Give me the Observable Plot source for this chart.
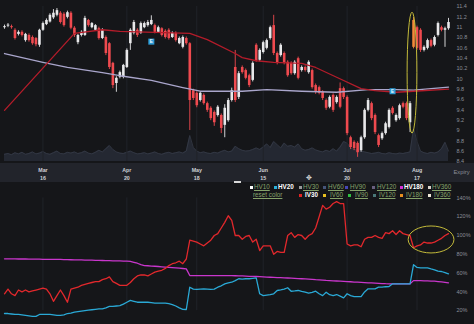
<!DOCTYPE html>
<html><head><meta charset="utf-8">
<script src="https://cdn.jsdelivr.net/npm/d3@7"></script>
<script src="https://cdn.jsdelivr.net/npm/@observablehq/plot@0.6"></script>
<style>
html,body{margin:0;padding:0;background:#151619;}
#wrap{position:relative;width:474px;height:324px;background:#151619;overflow:hidden;font-family:"Liberation Sans",Arial,sans-serif;}
#band{position:absolute;left:0;top:163px;width:474px;height:19px;background:#22242b;}
.layer{position:absolute;left:0;top:0;width:474px;}
.lg{position:absolute;font-size:6.3px;line-height:8px;white-space:nowrap;}
.sq{position:absolute;width:3px;height:3px;}
.lnk{color:#86a36a;text-decoration:underline;}
.act{color:#ffffff;font-weight:bold;}
</style>
</head><body>
<div id="wrap">
  <div id="band"></div>
  <div id="vol" class="layer"></div>
  <div id="top" class="layer"></div>
  <div id="bot" class="layer" style="top:182px"></div>
  <div id="legend"></div>
</div>
<script>
// ---- price candles (trading-day index 0..127, Mar 1 – Aug 30) ----
const open = [10.99,11.02,11.01,10.94,10.86,10.90,10.74,10.84,10.80,10.78,
 10.65,10.94,11.05,11.10,11.18,11.23,11.27,11.25,11.19,11.27,
 10.98,10.70,10.84,10.84,11.13,10.99,10.94,10.97,10.78,10.80,
 10.68,10.30,9.91,10.03,10.03,10.22,10.68,10.88,10.94,10.88,
 10.99,11.03,11.05,11.03,10.90,10.97,10.92,10.94,10.80,10.88,
 10.68,10.61,10.78,10.68,9.77,9.72,9.58,9.68,9.52,9.43,
 9.35,9.29,9.29,9.10,9.19,9.58,10.22,9.64,10.22,10.16,
 10.06,9.97,10.65,10.36,10.51,10.59,10.78,11.03,10.49,10.45,
 10.49,10.32,10.30,10.10,10.39,10.16,10.22,10.12,10.16,9.87,
 9.83,9.74,9.58,9.45,9.68,9.54,9.81,9.81,9.64,8.86,
 8.77,8.75,8.61,8.86,9.39,9.52,9.29,8.90,8.84,8.94,
 9.06,9.43,9.19,9.23,9.52,9.52,9.15,11.13,10.99,10.94,
 10.55,10.59,10.74,10.65,10.84,10.99,10.94,10.97];
const close = [11.01,11.04,10.99,10.78,10.90,10.84,10.86,10.74,10.68,10.66,
 10.94,11.07,11.13,11.23,11.27,11.32,11.09,11.03,11.28,10.98,
 10.84,10.84,10.90,11.17,11.03,11.07,11.03,10.78,10.94,10.49,
 10.22,9.87,10.01,10.12,10.26,10.55,10.94,11.09,10.84,11.07,
 11.07,11.09,11.13,10.90,10.99,10.84,10.80,10.78,10.88,10.74,
 10.78,10.80,10.68,9.58,9.62,9.48,9.72,9.52,9.39,9.23,
 9.15,9.45,9.04,9.43,9.58,9.77,9.58,10.10,10.12,10.01,
 9.87,10.30,10.35,10.55,10.70,10.74,10.99,10.49,10.30,10.65,
 10.30,10.06,10.10,10.32,10.01,10.22,10.16,10.32,9.83,9.74,
 9.72,9.62,9.43,9.64,9.39,9.64,9.45,9.64,8.94,8.67,
 8.65,8.57,8.86,9.39,9.58,9.23,8.96,8.71,8.94,9.13,
 9.39,9.33,9.29,9.48,9.45,9.23,9.52,10.61,10.59,10.55,
 10.61,10.74,10.63,10.80,11.07,10.94,10.97,11.09];
const high = [11.04,11.07,11.04,10.97,10.93,10.93,10.88,10.87,10.83,10.80,
 10.96,11.10,11.16,11.26,11.34,11.36,11.30,11.28,11.31,11.30,
 11.01,10.86,10.93,11.21,11.15,11.09,11.05,11.00,10.97,10.83,
 10.70,10.32,10.04,10.15,10.28,10.58,10.97,11.13,10.97,11.10,
 11.10,11.13,11.22,11.06,11.02,10.99,10.95,10.97,10.91,10.91,
 10.81,10.83,10.81,10.70,9.80,9.75,9.75,9.71,9.55,9.46,
 9.38,9.48,9.32,9.50,9.62,9.82,10.55,10.14,10.25,10.19,
 10.09,10.33,10.68,10.58,10.73,10.77,11.02,11.23,10.52,10.68,
 10.52,10.35,10.33,10.35,10.42,10.25,10.25,10.35,10.19,9.90,
 9.86,9.77,9.61,9.67,9.71,9.67,9.92,9.84,9.67,8.89,
 8.80,8.78,8.89,9.42,9.62,9.55,9.32,8.93,8.97,9.16,
 9.42,9.46,9.32,9.51,9.55,9.55,9.56,11.19,11.02,10.97,
 10.64,10.77,10.77,10.83,11.10,11.02,11.00,11.17];
const low = [10.96,10.99,10.96,10.75,10.83,10.81,10.71,10.71,10.65,10.62,
 10.61,10.92,11.03,11.08,11.15,11.20,11.06,11.00,11.16,10.95,
 10.80,10.66,10.81,10.82,11.00,10.97,10.92,10.75,10.76,10.45,
 10.18,9.81,9.74,10.00,10.00,10.20,10.55,10.85,10.80,10.86,
 10.97,11.00,11.03,10.87,10.88,10.81,10.77,10.75,10.78,10.71,
 10.66,10.58,10.65,9.00,9.58,9.44,9.55,9.49,9.35,9.19,
 9.08,9.26,8.94,8.86,9.16,9.55,9.54,9.60,10.09,9.98,
 9.83,9.94,10.32,10.33,10.48,10.56,10.75,10.45,10.27,10.42,
 10.27,10.03,10.07,10.07,9.98,10.13,10.13,10.09,9.80,9.70,
 9.69,9.58,9.39,9.42,9.35,9.51,9.42,9.60,8.90,8.63,
 8.61,8.48,8.58,8.83,9.36,9.19,8.92,8.67,8.81,8.91,
 9.03,9.30,9.16,9.20,9.42,9.19,8.96,10.58,10.55,10.51,
 10.52,10.56,10.60,10.62,10.81,10.91,10.61,10.94];
const volume = [1.8,2.0,1.7,2.2,1.9,2.3,1.8,2.0,2.4,1.9,
 2.1,2.5,2.0,1.8,2.2,2.6,2.0,1.9,2.3,2.1,
 2.4,2.0,2.2,2.6,2.1,1.9,2.3,2.8,2.4,3.2,
 4.0,3.0,2.4,2.1,2.0,2.3,2.6,2.2,1.9,2.0,
 2.2,1.9,2.1,2.4,2.0,1.8,2.1,2.3,2.0,2.2,
 2.4,2.1,2.6,6.5,3.5,2.6,2.2,2.4,2.1,2.0,
 2.3,2.1,2.5,2.8,2.4,2.6,3.8,3.2,2.8,2.6,
 2.7,3.0,3.4,3.0,3.6,4.4,3.5,5.0,4.2,3.4,
 4.6,3.8,4.0,3.6,4.4,3.2,2.8,3.0,3.4,2.9,
 2.6,2.4,2.8,2.5,3.2,2.6,3.6,5.0,4.6,3.4,
 3.0,2.8,2.6,2.4,2.2,2.0,2.1,2.3,2.0,1.9,
 2.2,2.0,1.9,2.1,2.0,2.2,2.4,8.3,5.0,2.6,
 2.2,2.0,2.3,2.1,2.4,3.2,4.8,2.6];
const highlightCandles = [117];

// moving averages (read at points)
const ma50Idx = [0,20,28,33,43,53,58,66,68,72,77,85,89,95,102,106,112,117,127];
const ma50Val = [9.39,10.88,10.95,10.92,10.90,10.88,10.76,10.49,10.41,10.35,10.32,10.30,10.22,10.03,9.81,9.77,9.74,9.76,9.80];
const ma200Idx = [0,11,18,28,33,42,51,56,68,75,85,95,104,112,117,127];
const ma200Val = [10.49,10.32,10.22,10.12,10.06,9.97,9.83,9.76,9.76,9.79,9.76,9.74,9.79,9.79,9.78,9.84];

// earnings markers
const earnIdx = [42, 111];
const earnPrice = [10.72, 9.76];

// expiry ticks
const tickIdx = [11, 35, 55, 74, 98, 118];
const tickMonth = ["Mar","Apr","May","Jun","Jul","Aug"];
const tickDay = ["16","20","18","15","20","17"];
const priceTicks = [8.4,8.6,8.8,9,9.2,9.4,9.6,9.8,10,10.2,10.4,10.6,10.8,11,11.2,11.4];
const volTicks = [20,40,60,80,100,120,140];

// volatility series (%)
const iv30 = [38,43,38,36,42,40,42,40,41,42,
 43,44,43,38,30,36,42,36,29,43,
 44,45,47,48,49,50,51,51,53,54,
 56,51,49,47,47,47,50,54,57,58,
 58,57,59,61,62,63,65,68,70,71,
 72.7,70,75,95,94,93,91,89,92,95,
 100,102,108,114,121,116,100,100,96,99,
 100,93,96,84,89,89,89,80,83,82,
 82,100,103,98,101,100,96,100,102,108,
 120,132,128,130,134,136,134,134,91,89,
 90,90,88,96,98,98,100,98,97,103,
 102,105,101,105,102,101,100,87,89,90,
 93,92,92,93,95,97,100,102];
const hv20 = [17,17,16.5,16,16,15.5,15,14.5,14,14,
 16,16,16,16,15.5,15,15,15.5,17,17.5,
 18.5,19,19.5,20,20.5,21,21.5,22,22,23,
 24.5,24.5,25,25.5,27,29,31,30,29,29,
 29,29,28.5,28,28,28,28,27.5,26.5,25,
 23,21.5,21.3,45,43,42.6,43,43.3,43,42.6,
 43,45,46.5,48.6,49.5,50.3,52,54,53.5,54,
 54,54.5,55,38,36,36.5,37,38,41.5,42.2,
 43,44.4,40.7,41,41.5,40.5,39.7,38.6,39.5,40.7,
 38,36,39.7,37,36,37.2,35.5,33.7,38,36,
 35,35,35,40,43.3,43.3,43.3,45,45,45.5,
 45.7,48.6,48.6,48.6,48.6,48.6,48.6,69,66,65.6,
 65.6,65.6,64.5,63.5,62,61.7,60.5,59.3];
const hv180 = [75.2,75.2,75.1,75.1,75,75,75,74.9,74.9,74.8,
 74.8,74.7,74.7,74.6,74.6,74.5,74.5,74.4,74.3,74.2,
 74.1,74,74,73.9,73.8,73.7,73.6,73.5,73.4,73.3,
 73.2,73.1,73,72.9,72.8,72.7,72.5,71.5,70.5,69,
 68,67.8,67.5,67.3,67,66.7,66.4,66.1,65.8,65.5,
 65.2,64.9,64.5,57.4,57.4,57.4,57.4,57.4,57.4,57.4,
 57.4,57.4,57.4,57.4,57.4,57.3,57.2,57.1,57,56.8,
 56.6,56.5,56.4,56.2,56,55.8,55.6,55.4,55.2,55.1,
 55,54.8,54.6,54.4,54.2,54,53.8,53.6,53.3,53,
 52.8,52.5,52.2,52,51.8,51.6,51.4,51.2,51,50.8,
 50.5,50.3,50.1,49.9,49.7,49.5,49.3,49.1,48.9,48.7,
 48.6,48.6,48.6,48.6,48.6,48.6,48.6,52,52,51.9,
 51.8,51.7,51.5,51.4,51,50.6,50.2,49.7];

// highlight ellipses (annotation extents in data units)
const topEllipse = {x1:115.3, x2:118.1, y1:8.94, y2:11.28};
const botEllipse = {x1:115.6, x2:128.7, y1:80.9, y2:109.6};

// legend
const hvNames = ["HV10","HV20","HV30","HV60","HV90","HV120","HV180","HV360"];
const hvColors = ["#ffffff","#2ab0d8","#9a9a9a","#46557a","#4646b4","#6a6080","#d22fd2","#d8d0c8"];
const hvActive = [false,true,false,false,false,false,true,false];
const ivNames = ["IV30","IV60","IV90","IV120","IV180","IV360"];
const ivColors = ["#e22424","#e8c020","#30c040","#4a7878","#e89020","#f0ead8"];
const ivActive = [true,false,false,false,false,false];

// ---------- build ----------
const FONT = '"Liberation Sans", Arial, sans-serif';
const candles = open.map((o, i) => ({i, open:o, close:close[i], high:high[i], low:low[i], volume:volume[i]}));
const candleColor = d => highlightCandles.includes(d.i) ? "#f4893a" : (d.close >= d.open ? "#e8e8ea" : "#ef4a4f");
const ma50 = ma50Idx.map((i, k) => ({i, v: ma50Val[k]}));
const ma200 = ma200Idx.map((i, k) => ({i, v: ma200Val[k]}));
const earnings = earnIdx.map((i, k) => ({i, p: earnPrice[k]}));
const vols = iv30.map((v, i) => ({i, iv30: v, hv20: hv20[i], hv180: hv180[i]}));

function ellipseMark(e, color) {
  return (index, scales) => {
    const x1 = scales.x(e.x1), x2 = scales.x(e.x2), y1 = scales.y(e.y1), y2 = scales.y(e.y2);
    return d3.create("svg:ellipse")
      .attr("cx", (x1 + x2) / 2).attr("cy", (y1 + y2) / 2)
      .attr("rx", Math.abs(x2 - x1) / 2).attr("ry", Math.abs(y2 - y1) / 2)
      .attr("fill", "none").attr("stroke", color).attr("stroke-width", 1).node();
  };
}

const common = {width: 474, marginLeft: 4, marginRight: 26};
const baseStyle = {background: "transparent", color: "#8b8f98", fontFamily: FONT, overflow: "visible"};

// volume layer
document.getElementById("vol").append(Plot.plot({
  ...common, height: 182, marginTop: 121, marginBottom: 21,
  x: {domain: [0, 127], axis: null}, y: {domain: [0, 10], axis: null},
  style: baseStyle,
  marks: [
    Plot.areaY(candles, {x: "i", y: "volume", fill: "#242832"}),
    Plot.lineY(candles, {x: "i", y: "volume", stroke: "#363b48", strokeWidth: 0.8})
  ]
}));

// price layer
document.getElementById("top").append(Plot.plot({
  ...common, height: 182, marginTop: 6, marginBottom: 21,
  x: {domain: [0, 127]}, y: {domain: [8.4, 11.4]}, color: {type: "identity"},
  style: baseStyle,
  marks: [
    Plot.ruleX(tickIdx, {stroke: "#202329", strokeWidth: 1}),
    Plot.ruleX(candles, {x: "i", y1: "low", y2: "high", stroke: candleColor, strokeWidth: 0.9}),
    Plot.ruleX(candles, {x: "i", y1: "open", y2: "close", stroke: candleColor, strokeWidth: 2.6}),
    Plot.line(ma200, {x: "i", y: "v", stroke: "#aaa6cc", strokeWidth: 1.3}),
    Plot.line(ma50, {x: "i", y: "v", stroke: "#b41c2a", strokeWidth: 1.3}),
    Plot.dot(earnings, {x: "i", y: "p", symbol: "square", r: 3.4, fill: "#2e9cd6"}),
    Plot.text(earnings, {x: "i", y: "p", text: () => "E", fill: "#ffffff", fontSize: 4.5, fontWeight: "bold"}),
    ellipseMark(topEllipse, "#c4bb3a"),
    Plot.axisX({ticks: tickIdx, tickFormat: d => tickMonth[tickIdx.indexOf(d)] + "\n" + tickDay[tickIdx.indexOf(d)],
      tickSize: 0, tickPadding: 4.5, fontSize: 5.3, fontWeight: "bold", color: "#cfd1d6", lineHeight: 1.5, label: null}),
    Plot.axisY({anchor: "right", ticks: priceTicks, tickFormat: d => String(+d.toFixed(1)),
      tickSize: 0, tickPadding: 8, fontSize: 5.5, color: "#8b8f98", label: null}),
    Plot.text(["Expiry"], {frameAnchor: "bottom-right", dx: 13, dy: 11, fontSize: 5.8, fill: "#8b8f98", textAnchor: "middle", lineAnchor: "middle"})
  ]
}));

// volatility layer
document.getElementById("bot").append(Plot.plot({
  ...common, height: 142, marginTop: 15.4, marginBottom: 13.8,
  x: {domain: [0, 127], axis: null}, y: {domain: [20, 140]},
  style: baseStyle,
  marks: [
    Plot.ruleX(tickIdx, {stroke: "#202329", strokeWidth: 1}),
    Plot.line(vols, {x: "i", y: "hv180", stroke: "#c936cc", strokeWidth: 1.3}),
    Plot.line(vols, {x: "i", y: "hv20", stroke: "#2aa9d6", strokeWidth: 1.3}),
    Plot.line(vols, {x: "i", y: "iv30", stroke: "#e2282c", strokeWidth: 1.3}),
    ellipseMark(botEllipse, "#c4bb3a"),
    Plot.axisY({anchor: "right", ticks: volTicks, tickFormat: d => d + "%",
      tickSize: 0, tickPadding: 8, fontSize: 5.5, color: "#8b8f98", label: null})
  ]
}));

// legend (HTML layout)
const lg = document.getElementById("legend");
const row1Sq = [249.5,273.5,298.5,322.5,344.5,371.5,399.5,427.5];
const row1Tx = [254,278,303,328,350,377,404,432];
const row2Sq = [298.5,322.5,347.5,372.5,399.5,427.5];
const row2Tx = [305,330,355,379,406,434];
function addItem(name, color, active, sqX, txX, top) {
  const s = document.createElement("div");
  s.className = "sq"; s.style.left = sqX + "px"; s.style.top = (top + 2.5) + "px"; s.style.background = color;
  lg.append(s);
  const t = document.createElement("div");
  t.className = "lg " + (active ? "act" : "lnk"); t.style.left = txX + "px"; t.style.top = top + "px";
  t.textContent = name; lg.append(t);
}
hvNames.forEach((n, k) => addItem(n, hvColors[k], hvActive[k], row1Sq[k], row1Tx[k], 183));
ivNames.forEach((n, k) => addItem(n, ivColors[k], ivActive[k], row2Sq[k], row2Tx[k], 191));
const rc = document.createElement("div");
rc.className = "lg lnk"; rc.style.left = "253px"; rc.style.top = "191px"; rc.textContent = "reset color";
lg.append(rc);
const dash = document.createElement("div");
dash.style.cssText = "position:absolute;left:234px;top:181px;width:7px;height:1.5px;background:#d8d8d8";
lg.append(dash);
const mv = document.createElement("div");
mv.style.cssText = "position:absolute;left:306px;top:174px;font-size:7px;line-height:8px;color:#dddddd;font-family:'DejaVu Sans'";
mv.textContent = "\u2725";
lg.append(mv);
</script>
</body></html>
